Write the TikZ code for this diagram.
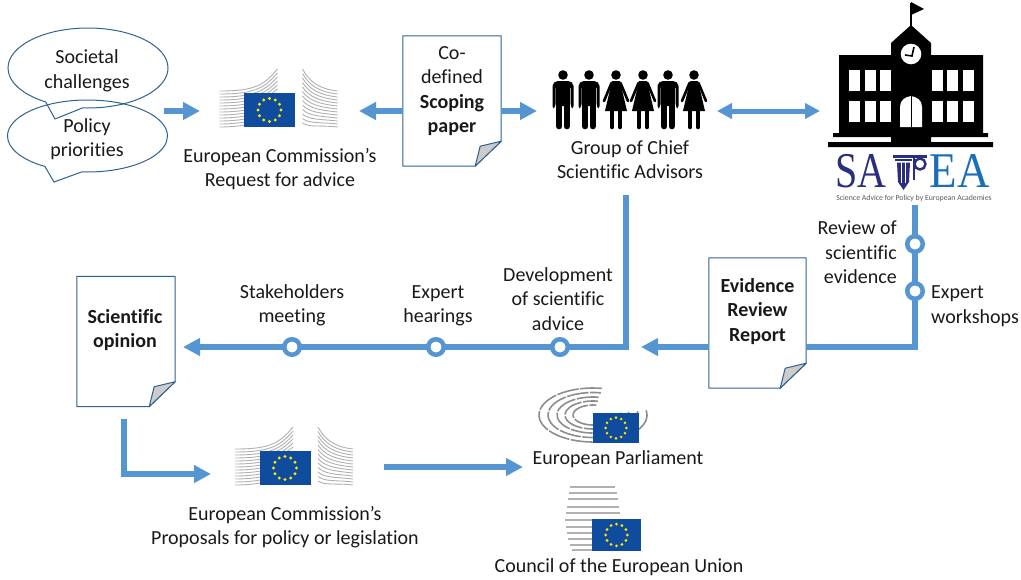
\documentclass[tikz,border=0pt]{standalone}
\usepackage{fontspec}
\setmainfont{Carlito}[Ligatures=NoCommon]
\usetikzlibrary{arrows.meta,shapes.callouts}
\definecolor{flowblue}{HTML}{5596D2}
\definecolor{docblue}{HTML}{2F618F}
\definecolor{flagblue}{HTML}{0F4C9E}
\definecolor{staryellow}{HTML}{FFE600}
\definecolor{wingray}{HTML}{B0B0B0}
\definecolor{sapeanavy}{HTML}{2A2E7C}
\definecolor{sapeablue}{HTML}{1B6FB8}
\newcommand{\docfold}[1]{%
    \draw[docblue,line width=1pt,line join=round] (#1.north west) -- (#1.north east) -- ([yshift=25pt]#1.south east)
        -- ([xshift=-26pt]#1.south east) -- (#1.south west) -- cycle;
    \draw[docblue,line width=1pt,fill=black!20,line join=round] ([yshift=25pt]#1.south east) -- ([xshift=-21pt,yshift=20pt]#1.south east)
        -- ([xshift=-26pt]#1.south east) -- cycle;
}
\tikzset{
    txt/.style={font=\fontsize{20}{24.5}\selectfont,text=black!90,align=center,inner sep=0pt},
    docbox/.style={minimum width=#1,minimum height=130pt,inner sep=0pt},
    bubble/.style={ellipse callout,draw=docblue,line width=1pt,inner sep=0pt,minimum width=160pt},
    ring/.style={circle,draw=flowblue,fill=white,line width=4.5pt,minimum size=15.5pt,inner sep=0pt},
    flow/.style={flowblue,line width=6pt,-{Triangle[length=17pt,width=17pt]}},
    flowline/.style={flowblue,line width=5.5pt},
    euflag/.pic={
        \fill[flagblue] (-25.5,-17) rectangle (25.5,17);
        \foreach \a in {0,30,...,330} {
            \fill[staryellow] (\a:11.5) circle (1.6);
        }
    },
    ecbuilding/.pic={
        \foreach \i in {0,...,12} {
            \draw[wingray,line width=.9pt] (-50,{-19+3*\i}) .. controls ({-16+\i},{-19+3*\i}) and ({-6+\i},{-24+2*\i}) .. (8,{-41+4*\i});
        }
        \foreach \i in {0,...,12} {
            \draw[wingray,line width=.9pt] (33,{-41+4.5*\i}) .. controls ({40},{-28+3.8*\i}) and ({50},{-21+3*\i}) .. (68,{-19+3*\i});
        }
        \pic {euflag};
    },
    man/.pic={
        \fill (0,0) circle (4.8);
        \fill[rounded corners=2pt] (-10.5,33) -- (-10.5,9) -- (-7,6) -- (7,6) -- (10.5,9) -- (10.5,33) -- (8,33) -- (8,11) -- (7.4,11) -- (7.4,31) -- (-7.4,31) -- (-7.4,11) -- (-8,11) -- (-8,33) -- cycle;
        \foreach \s in {-1,1} {
            \draw[line width=5.6pt,line cap=round] ({\s*3.8},30) -- ({\s*3.8},51.5);
        }
    },
    woman/.pic={
        \fill (0,0) circle (4.8);
        \fill (-4,6) -- (4,6) -- (11,36) -- (-11,36) -- cycle;
        \foreach \s in {-1,1} {
            \draw[line width=2.6pt,line cap=round] ({\s*4.5},8) -- ({\s*12},26);
            \draw[line width=4.6pt,line cap=round] ({\s*4},36) -- ({\s*4},52);
        }
    },
}
\begin{document}
\begin{tikzpicture}[x=1pt,y=-1pt]
    \useasboundingbox (0,0) rectangle (1021,579);
    %% Speech bubbles
    \node[bubble,minimum height=80pt,callout absolute pointer={(55,119)},callout pointer arc=28] (societal) at (88,68) {};
    \node[txt] (societaltext) at (87,71) {Societal\\challenges};
    \node[bubble,minimum height=72pt,callout absolute pointer={(54,182)},callout pointer arc=28] (policy) at (87.5,136) {};
    \node[txt] (policytext) at (87,139) {Policy\\priorities};
    %% Commission logos
    \pic at (269.5,110) {ecbuilding};
    \node[txt] (request) at (280,169) {European Commission’s\\Request for advice};
    \pic at (285,468) {ecbuilding};
    \node[txt] (proposals) at (285,527) {European Commission’s\\Proposals for policy or legislation};
    %% Papers
    \node[docbox=98pt] (scoping) at (452,101) {};
    \docfold{scoping}
    \node[txt] (scopingtext) at (452,91) {Co-\\defined\\\textbf{Scoping}\\\textbf{paper}};
    \node[docbox=97pt] (evidence) at (757.5,323) {};
    \docfold{evidence}
    \node[txt] (evidencetext) at (757.5,311.5) {\textbf{Evidence}\\\textbf{Review}\\\textbf{Report}};
    \node[docbox=98pt] (opinion) at (126,341.5) {};
    \docfold{opinion}
    \node[txt] (opiniontext) at (125,330) {\textbf{Scientific}\\\textbf{opinion}};
    %% Advisors
    \foreach \x/\who in {563/man, 589/man, 616/woman, 643/woman, 668/man, 694/woman} {
        \pic at (\x,75) {\who};
    }
    \node[txt] (advisors) at (630,159.5) {Group of Chief\\Scientific Advisors};
    %% School
    \draw[line width=1.6pt] (911,27) -- (911,3);
    \fill (911,2) -- (924,9) -- (911,15) -- cycle;
    \fill (911,25) -- (931,43) -- (931,55) -- (983,55) -- (983,133) -- (988,133) -- (988,137) -- (931,137) -- (931,142) -- (993,142) -- (993,147)
        -- (828,147) -- (828,142) -- (891,142) -- (891,137) -- (833,137) -- (833,133) -- (839,133) -- (839,55) -- (891,55) -- (891,43) -- cycle;
    \fill[white] (911,54) circle (10.3);
    \draw[line width=1.6pt] (914,47) -- (912,56) -- (905,55);
    \foreach \x in {849,865,880,932,947,963} {
        \foreach \y in {70,101} {
            \fill[white] (\x,\y) rectangle +(10.5,21);
        }
    }
    \fill[white] (900,127) -- (900,107) .. controls (900,100) and (905,97) .. (911,96) .. controls (917,97) and (922,100) .. (922,107) -- (922,127) -- cycle;
    \draw[line width=1pt] (911,96) -- (911,127);
    %% SAPEA logo
    \node[font=\fontsize{50}{50}\selectfont\fontspec{Liberation Serif},text=sapeanavy,xscale=.8,anchor=base west,inner sep=0pt] (sapealeft) at (835,187) {SA};
    \node[font=\fontsize{50}{50}\selectfont\fontspec{Liberation Serif},text=sapeablue,xscale=.9,anchor=base east,inner sep=0pt] (sapearight) at (990,187) {EA};
    \fill[sapeanavy] (893,155) rectangle (927,157.5);
    \fill[sapeanavy] (895,159) rectangle (912,161);
    \fill[sapeanavy] (897,162.5) -- (910,162.5) -- (909,182) -- (903.5,190) -- (898,182) -- cycle;
    \foreach \x in {901.3,905.7} {
        \draw[white,line width=.8pt] (\x,162) -- (\x,183);
    }
    \draw[sapeanavy,line width=2pt] (914,158) -- (914,180);
    \draw[sapeanavy,line width=2.4pt] (920,164) circle (5.5);
    \node[font=\fontsize{7.8}{8}\selectfont\fontspec{Carlito},text=black!65,inner sep=0pt] (sapeasub) at (914,198) {Science Advice for Policy by European Academies};
    %% Parliament and Council
    \foreach \rx/\ry in {54/27, 45/22.5, 36/18, 28/14, 20/10} {
        \draw[wingray!80!black,line width=1.6pt,dash pattern=on 22pt off 1.5pt] (593,415) ++(10:\rx pt and \ry pt) arc[start angle=10,end angle=-280,x radius=\rx pt,y radius=\ry pt];
    }
    \pic[scale=.9] at (616,428) {euflag};
    \node[txt] (parliament) at (618,459) {European Parliament};
    \foreach \y/\l/\r in {487/570/615, 493/569/617, 499/568/618, 507/567/619, 513/566/620, 520/565/592, 527/566/592, 533/567/592, 539/568/592, 545/570/592, 550/572/592} {
        \draw[wingray,line width=1.8pt] (\l,\y) -- (\r,\y);
    }
    \pic[scale=.95] at (616.5,535) {euflag};
    \node[txt] (council) at (619,567) {Council of the European Union};
    %% Free ends of the arrows
    \coordinate (requestin) at (200,111);
    \coordinate (bubbleout) at (164,111);
    \coordinate (requestout) at (359,111);
    \coordinate (advisorsin) at (537,111);
    \coordinate (advisorsout) at (717,111);
    \coordinate (sapeain) at (820,111);
    \coordinate (sapeaout) at (915,205);
    \coordinate (evidencecorner) at (915,347);
    \coordinate (evidenceout) at (641,347);
    \coordinate (adviceout) at (626,195);
    \coordinate (advicecorner) at (626,347);
    \coordinate (opinionin) at (183,347);
    \coordinate (opinionout) at (124,419);
    \coordinate (opinioncorner) at (124,474);
    \coordinate (proposalsin) at (211,474);
    \coordinate (proposalsout) at (384,467);
    \coordinate (parliamentin) at (523,467);
    %% Arrows
    \draw[flow] (bubbleout) -- (requestin);
    \draw[flow] (scoping.west |- requestout) -- (requestout);
    \draw[flow] (scoping.east |- advisorsin) -- (advisorsin);
    \draw[flowblue,line width=5pt,{Triangle[length=15pt,width=15pt]}-{Triangle[length=15pt,width=15pt]}] (advisorsout) -- (sapeain);
    \draw[flowline] (sapeaout) -- (evidencecorner) -- (evidence.east |- evidencecorner);
    \draw[flow] (evidence.west |- evidenceout) -- (evidenceout);
    \draw[flow] (adviceout) -- (advicecorner) -- (opinionin);
    \draw[flow] (opinionout) -- (opinioncorner) -- (proposalsin);
    \draw[flow] (proposalsout) -- (parliamentin);
    %% Rings
    \foreach \x/\name in {292/stake, 436/hearing, 560/advice} {
        \node[ring] (\name) at (\x,347) {};
    }
    \foreach \y/\name in {244/review, 291/workshop} {
        \node[ring] (\name) at (915,\y) {};
    }
    %% Ring labels
    \node[txt] (staketext) at (292,305.5) {Stakeholders\\meeting};
    \node[txt] (hearingtext) at (438,306) {Expert\\hearings};
    \node[txt] (advicetext) at (558,299) {Development\\of scientific\\advice};
    \node[txt,align=right,anchor=east] (reviewtext) at (897,252.5) {Review of\\scientific\\evidence};
    \node[txt,align=left,anchor=west] (workshoptext) at (931,306) {Expert\\workshops};
\end{tikzpicture}
\end{document}
